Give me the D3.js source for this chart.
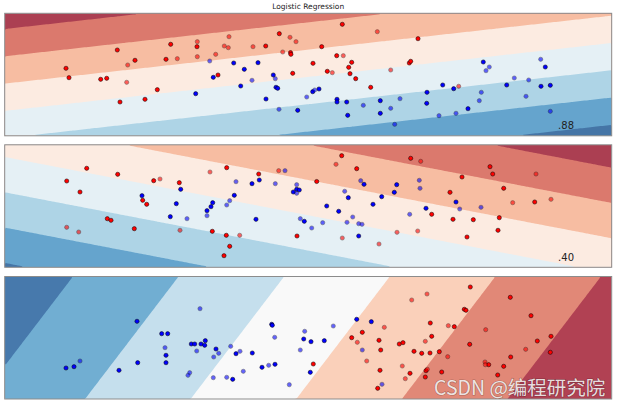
<!DOCTYPE html>
<html>
<head>
<meta charset="utf-8">
<script src="https://cdn.jsdelivr.net/npm/d3@7"></script>
<style>
    body { margin: 0; background: #fff; }
    svg { display: block; }
</style>
</head>
<body>
<svg id="chart" width="622" height="407"></svg>
<script>
const title = "Logistic Regression";
const scores = [".88", ".40", ""];
const watermark = "CSDN @编程研究院";

// fitted model per dataset: decision = w0*x + w1*y + b
const coefs = [[0.410, -3.663], [-0.544, -2.833], [-0.947, 0.723]];
const intercepts = [0.912, 3.125, 2.261];
const levels = [
    [-3, -2, -1, 0, 1, 2, 3],
    [-3, -2, -1, 0, 1, 2, 3],
    [-2.5, -1.5, -0.5, 0.5, 1.5, 2.5]
];

// points: [x, y, class]  (0 = red, 1 = blue)
const train1 = [
    [0.613,0.675,0],[0.643,0.581,0],[1.126,0.858,0],[1.303,0.755,0],[0.960,0.565,0],[1.020,0.575,0],
    [1.153,0.338,0],[1.403,0.365,0],[1.526,0.461,0],[1.660,0.915,0],[1.613,0.765,0],[1.923,0.891,0],
    [2.133,0.608,0],[2.610,0.898,0],[2.746,1.021,0],[2.858,0.832,0],[2.862,0.815,0],[2.880,0.625,0],
    [3.083,0.725,0],[3.376,1.115,0],[4.133,0.971,0],[3.170,0.891,0],[3.320,0.801,0],[3.470,0.735,0],
    [3.440,0.685,0],[3.226,0.645,0],[3.453,0.621,0],[3.510,0.571,0],[3.660,0.485,0],[4.046,0.728,0],
    [4.060,0.745,0],
    [2.290,0.728,1],[2.086,0.585,1],[1.910,0.421,1],[2.396,0.665,1],[2.360,0.498,1],[2.533,0.731,1],
    [2.686,0.608,1],[2.713,0.485,1],[2.730,0.475,1],[2.613,0.368,1],[2.930,0.255,1],[3.080,0.441,1],
    [3.143,0.468,1],[3.323,0.365,1],[3.323,0.338,1],[3.420,0.338,1],[3.430,0.205,1],[3.756,0.351,1],
    [3.756,0.225,1],[4.223,0.435,1],[4.220,0.325,1],[4.380,0.508,1],[4.490,0.471,1],[4.633,0.271,1],
    [4.786,0.738,1],[5.020,0.508,1],[5.406,0.688,1],[5.363,0.495,1],[5.456,0.505,1]
];
const test1 = [
    [1.230,0.708,0],[1.220,0.535,0],[1.726,0.771,0],[1.926,0.941,0],[1.926,0.791,0],[2.110,0.815,0],
    [2.243,0.991,0],[2.196,0.898,0],[2.236,0.881,0],[2.483,0.891,0],[2.853,0.985,0],[2.913,0.941,0],
    [2.780,0.838,0],[3.726,1.041,0],[3.386,0.801,0],[3.276,0.631,0],[3.860,0.658,0],[4.540,0.495,0],
    [2.050,0.748,1],[2.473,0.555,1],[2.706,0.571,1],[2.743,0.265,1],[3.020,0.388,1],[3.100,0.458,1],
    [3.586,0.305,1],[3.860,0.275,1],[3.953,0.371,1],[3.900,0.115,1],[4.343,0.201,1],[4.513,0.225,1],
    [4.746,0.351,1],[4.766,0.435,1],[4.846,0.688,1],[4.813,0.651,1],[5.096,0.578,1],[5.240,0.558,1],
    [5.213,0.395,1],[5.360,0.765,1],[5.456,0.245,1]
];
const train2 = [
    [0.820,0.990,0],[1.130,0.930,0],[0.620,0.863,0],[0.753,0.753,0],[1.490,0.866,0],[1.746,0.846,0],
    [2.220,0.996,0],[2.540,0.933,0],[3.120,0.858,0],[1.380,0.670,0],[1.420,0.630,0],[1.026,0.486,0],
    [1.063,0.470,0],[1.296,0.386,0],[2.076,0.360,0],[2.216,0.320,0],[2.250,0.210,0],[2.193,0.116,0],
    [2.923,0.313,0],[3.370,1.116,0],[3.520,0.986,0],[4.060,1.090,0],[4.853,1.006,0],[4.880,0.933,0],
    [4.573,0.903,0],[4.990,0.790,0],[4.453,0.750,0],[5.300,0.653,0],[4.270,0.530,0],[4.483,0.480,0],
    [4.686,0.476,0],[4.946,0.496,0],[4.933,0.370,0],[4.623,0.303,0],
    [1.760,0.780,1],[2.473,0.836,1],[2.546,0.873,1],[2.920,0.780,1],[2.886,0.753,1],[2.946,0.773,1],
    [1.373,0.716,1],[1.716,0.636,1],[2.296,0.720,1],[2.080,0.646,1],[2.063,0.606,1],[2.023,0.566,1],
    [1.656,0.506,1],[2.513,0.480,1],[2.996,0.460,1],[3.593,0.830,1],[3.920,0.826,1],[3.896,0.750,1],
    [3.436,0.696,1],[3.770,0.706,1],[3.683,0.630,1],[4.513,0.653,1],[3.220,0.613,1],[3.340,0.560,1],
    [3.540,0.313,1],[4.213,0.590,1]
];
const test2 = [
    [1.553,0.883,0],[2.053,0.953,0],[2.740,0.966,0],[0.620,0.400,0],[0.740,0.353,0],[1.753,0.370,0],
    [2.350,0.320,0],[3.313,1.030,0],[4.160,1.060,0],[5.313,0.933,0],[5.080,0.646,0],[5.463,0.680,0],
    [3.376,0.293,0],[3.743,0.233,0],[3.923,0.350,0],[4.130,0.363,0],
    [2.313,0.856,1],[2.803,0.966,1],[2.706,0.836,1],[2.920,0.826,1],[2.920,0.740,1],[2.250,0.666,1],
    [2.220,0.623,1],[2.023,0.516,1],[1.823,0.486,1],[2.956,0.486,1],[3.070,0.393,1],[3.560,0.866,1],
    [4.146,0.870,1],[4.153,0.790,1],[3.400,0.760,1],[4.550,0.583,1],[4.763,0.600,1],[3.480,0.503,1],
    [3.423,0.450,1],[3.540,0.436,1],[3.573,0.430,1],[3.180,0.446,1],[4.050,0.530,1]
];
const train3 = [
    [1.323,0.777,1],[1.570,0.653,1],[1.630,0.653,1],[1.613,0.437,1],[1.613,0.363,1],[1.330,0.363,1],
    [1.143,0.287,1],[0.613,0.310,1],[0.693,0.323,1],[1.866,0.550,1],[1.900,0.550,1],[1.963,0.550,1],
    [2.006,0.583,1],[2.000,0.537,1],[2.113,0.500,1],[2.280,0.197,1],[2.313,0.453,1],[2.476,0.460,1],
    [2.573,0.317,1],[2.703,0.347,1],[2.670,0.747,1],[2.676,0.737,1],[2.990,0.600,1],[3.063,0.573,1],
    [3.056,0.267,1],[3.196,0.583,1],[3.520,0.797,1],[3.666,0.773,1],
    [3.086,0.350,0],[3.576,0.667,0],[3.470,0.613,0],[3.753,0.287,0],[3.730,0.107,0],[3.743,0.587,0],
    [3.760,0.490,0],[3.946,0.550,0],[3.983,0.563,0],[4.053,0.257,0],[4.093,0.477,0],[4.170,0.457,0],
    [4.253,0.460,0],[4.346,0.473,0],[4.270,0.627,0],[4.256,0.760,0],[4.656,1.120,0],[4.596,0.897,0],
    [4.613,0.887,0],[4.496,0.723,0],[4.370,0.270,0],[4.213,0.283,0],[4.206,0.220,0],[4.650,0.547,0],
    [5.056,1.017,0],[5.263,0.833,0],[5.463,0.627,0],[5.326,0.580,0],[5.456,0.467,0],[5.060,0.420,0],
    [4.840,0.343,0],[4.990,0.327,0],[4.930,0.240,0]
];
const test3 = [
    [1.953,0.903,1],[0.753,0.380,1],[1.603,0.513,1],[1.920,0.480,1],[2.140,0.457,1],[2.090,0.420,1],
    [1.850,0.263,1],[1.833,0.237,1],[2.086,0.213,1],[2.220,0.217,1],[2.260,0.527,1],[2.353,0.477,1],
    [2.386,0.277,1],[2.640,0.337,1],[2.700,0.617,1],[3.000,0.677,1],[2.956,0.490,1],[2.846,0.143,1],
    [3.286,0.730,1],[3.576,0.490,1],[3.773,0.147,1],
    [3.796,0.717,0],[3.526,0.567,0],[3.620,0.380,0],[3.976,0.330,0],[4.006,0.203,0],[4.206,0.577,0],
    [4.070,0.990,0],[4.223,1.050,0],[4.436,0.733,0],[4.430,0.423,0],[4.226,0.297,0],[4.810,0.693,0],
    [5.210,0.497,0],[4.803,0.370,0],[4.806,0.343,0]
];

const trainSets = [train1, train2, train3];
const testSets = [test1, test2, test3];
const xDomain = [0, 6.07];
const yDomain = [0, 1.225];

const svg = d3.select("#chart");
const left = 4.7, panelW = 607, panelH = 122.5;
const tops = [13.3, 144.8, 276.5];
const pointColor = ["#FF0000", "#0000FF"];

// matplotlib style RdBu, drawn with alpha .8 over white
const rdbu = d3.scaleLinear()
    .domain(d3.range(11).map(function(i) { return i / 10; }))
    .range(d3.schemeRdBu[11]);
function bandColor(k, n) {
    return d3.interpolateRgb("#ffffff", rdbu((k + 0.5) / n))(0.8);
}

svg.append("text")
    .attr("x", left + panelW / 2)
    .attr("y", 9.4)
    .attr("text-anchor", "middle")
    .style("font-family", "DejaVu Sans")
    .style("font-size", "7.5px")
    .style("fill", "#222")
    .text(title);

const nx = 300, ny = 60;

tops.forEach(function(top, p) {
    const xScale = d3.scaleLinear().domain(xDomain).range([left, left + panelW]);
    const yScale = d3.scaleLinear().domain(yDomain).range([top + panelH, top]);

    // decision function on a grid
    const values = new Array(nx * ny);
    for (let j = 0; j < ny; j++) {
        for (let i = 0; i < nx; i++) {
            const x = xDomain[0] + (i + 0.5) / nx * (xDomain[1] - xDomain[0]);
            const y = yDomain[0] + (j + 0.5) / ny * (yDomain[1] - yDomain[0]);
            values[j * nx + i] = coefs[p][0] * x + coefs[p][1] * y + intercepts[p];
        }
    }
    const nBands = levels[p].length + 1;
    const contours = d3.contours().size([nx, ny]).thresholds(levels[p])(values);
    const path = d3.geoPath(d3.geoTransform({
        point: function(gx, gy) {
            this.stream.point(
                xScale(xDomain[0] + gx / nx * (xDomain[1] - xDomain[0])),
                yScale(yDomain[0] + gy / ny * (yDomain[1] - yDomain[0]))
            );
        }
    }));

    svg.append("clipPath")
        .attr("id", "clip" + p)
        .append("rect")
        .attr("x", left).attr("y", top)
        .attr("width", panelW).attr("height", panelH);

    const g = svg.append("g").attr("clip-path", "url(#clip" + p + ")");
    g.append("rect")
        .attr("x", left).attr("y", top)
        .attr("width", panelW).attr("height", panelH)
        .attr("fill", bandColor(0, nBands));
    g.selectAll("path.band")
        .data(contours)
        .enter()
        .append("path")
        .attr("class", "band")
        .attr("d", path)
        .attr("fill", function(d, k) { return bandColor(k + 1, nBands); });

    // training points, then test points
    g.selectAll("circle.train")
        .data(trainSets[p])
        .enter()
        .append("circle")
        .attr("class", "train")
        .attr("cx", function(d) { return xScale(d[0]); })
        .attr("cy", function(d) { return yScale(d[1]); })
        .attr("r", 2.1)
        .attr("fill", function(d) { return pointColor[d[2]]; })
        .attr("stroke", "#000")
        .attr("stroke-width", 0.5);
    g.selectAll("circle.test")
        .data(testSets[p])
        .enter()
        .append("circle")
        .attr("class", "test")
        .attr("cx", function(d) { return xScale(d[0]); })
        .attr("cy", function(d) { return yScale(d[1]); })
        .attr("r", 2.1)
        .attr("fill", function(d) { return pointColor[d[2]]; })
        .attr("stroke", "#000")
        .attr("stroke-width", 0.5)
        .attr("opacity", 0.6);

    svg.append("rect")
        .attr("x", left).attr("y", top)
        .attr("width", panelW).attr("height", panelH)
        .attr("fill", "none")
        .attr("stroke", "#8c8c8c")
        .attr("stroke-width", 1);

    svg.append("text")
        .attr("x", left + panelW - 37.7)
        .attr("y", top + panelH - 6.4)
        .attr("text-anchor", "end")
        .style("font-family", "DejaVu Sans")
        .style("font-size", "10px")
        .style("fill", "#222")
        .text(scores[p]);
});

svg.append("text")
    .attr("x", 434)
    .attr("y", 395)
    .style("font-family", "'Noto Sans CJK SC', 'Noto Sans'")
    .style("font-size", "19.5px")
    .style("fill", "#f4f4f4")
    .style("fill-opacity", 0.9)
    .style("stroke", "rgba(0,0,0,0.25)")
    .style("stroke-width", 1.2)
    .style("paint-order", "stroke")
    .text(watermark);
</script>
</body>
</html>
